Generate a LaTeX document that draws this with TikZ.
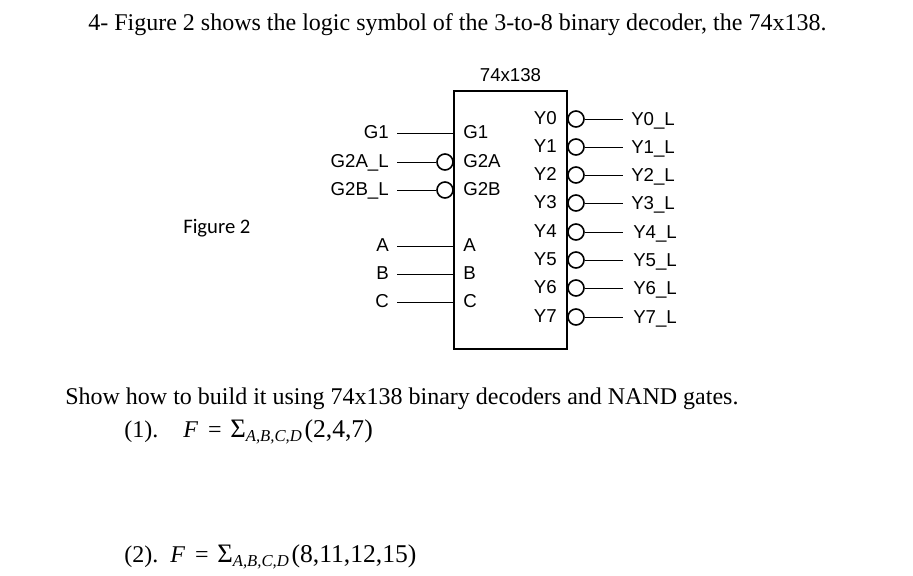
\documentclass[tikz,border=0pt]{standalone}
\usepackage{fontspec}
\setmainfont{Liberation Serif}
\setsansfont{Liberation Sans}
\newfontfamily\figfont{Carlito}
\usetikzlibrary{positioning}
\newcommand{\sumover}[1]{\textit{F}\hspace{7.5pt}=\hspace{6.5pt}{\fontsize{20}{20}\selectfont Σ}\raisebox{-3.5pt}{\fontsize{12.5}{12.5}\selectfont\itshape A,B,C,D}\hspace{2pt}{\fontsize{19.2}{20}\selectfont(#1)}}
\tikzset{
    pinlabel/.style={font=\sffamily\fontsize{14}{16}\selectfont, inner sep=0pt, text height=10pt, text depth=0pt},
    bubble/.style={circle, draw, line width=1.2pt, fill=white, minimum size=16\pxunit, inner sep=0pt},
    pinline/.style={draw, semithick},
    question/.style={font=\fontsize{18}{20}\selectfont, inner sep=0pt, anchor=base west}
}
\newdimen\pxunit
\pxunit=0.75pt
\begin{document}
\begin{tikzpicture}[x=0.75pt, y=-0.75pt]
    \useasboundingbox (0,0) rectangle (913,575);

    % Heading
    \node[question] (heading) at (88,30) {4- Figure 2 shows the logic symbol of the 3-to-8 binary decoder, the 74x138.};
    \node[inner sep=0pt, font=\figfont\fontsize{15.5}{18}\selectfont, anchor=west] (figname) at (183,228) {Figure 2};

    % Decoder box
    \node[draw, line width=1pt, minimum width=113\pxunit, minimum height=258\pxunit, inner sep=0pt] (decoder) at (510.5,220) {};
    \node[pinlabel, above=9\pxunit of decoder] (partname) {74x138};

    % Plain inputs
    \foreach \name/\txt/\ypos in {g1/G1/133, a/A/246, b/B/274, c/C/302} {
        \node[pinlabel, anchor=east, xshift=-8\pxunit] (in\name) at (397,\ypos-1) {\txt};
        \coordinate (start\name) at (397,\ypos);
        \draw[pinline] (start\name) -- (start\name -| decoder.west);
        \node[pinlabel, anchor=west] (pin\name) at (463,\ypos-1) {\txt};
    }

    % Active low inputs
    \foreach \name/\txt/\ypos in {gA/G2A/162, gB/G2B/190} {
        \node[pinlabel, anchor=east, xshift=-8\pxunit] (in\name) at (397,\ypos-1) {\txt\_L};
        \coordinate (start\name) at (397,\ypos);
        \node[bubble] (dot\name) at (445,\ypos) {};
        \draw[pinline] (start\name) -- (dot\name);
        \node[pinlabel, anchor=west] (pin\name) at (463,\ypos-1) {\txt};
    }

    % Outputs
    \foreach \i/\ypos/\dx in {0/119/8, 1/147/8, 2/175/8, 3/203/8, 4/232/10, 5/260/10, 6/288/10, 7/317/10} {
        \node[bubble] (dotY\i) at (576,\ypos) {};
        \coordinate (endY\i) at (623,\ypos);
        \draw[pinline] (dotY\i) -- (endY\i);
        \node[pinlabel, anchor=east] (pinY\i) at (557,\ypos-1) {Y\i};
        \node[pinlabel, anchor=west, xshift=\dx\pxunit] (outY\i) at (endY\i) {Y\i\_L};
    }

    % Questions
    \node[question] (task) at (65,404) {Show how to build it using 74x138 binary decoders and NAND gates.};
    \node[question] (one) at (124,437) {(1).};
    \node[question] (oneeq) at (183,437) {\sumover{2,4,7}};
    \node[question] (two) at (124,562) {(2).};
    \node[question] (twoeq) at (170,562) {\sumover{8,11,12,15}};
\end{tikzpicture}
\end{document}
